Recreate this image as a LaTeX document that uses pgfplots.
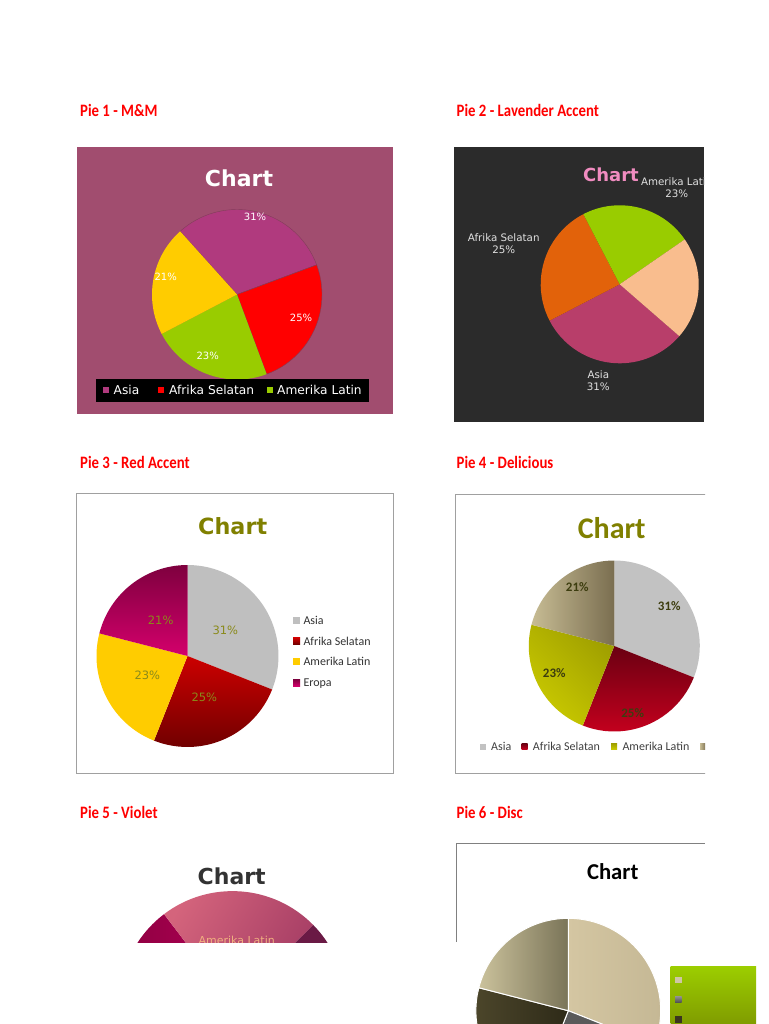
\documentclass[border=0pt]{standalone}
\usepackage{pgfplots}
\pgfplotsset{compat=1.18}
\usepgfplotslibrary{polar}
\usepackage{fontspec}
\setmainfont{DejaVu Sans}
\newfontfamily\carlito{Carlito}

% share of each region, in percent
\def\vAsia{31}
\def\vAfrika{25}
\def\vAmerika{23}
\def\vEropa{21}

\definecolor{mmbg}{HTML}{A14D6F}
\definecolor{mmAsia}{HTML}{B03A7E}
\definecolor{mmAfr}{HTML}{FF0000}
\definecolor{mmAme}{HTML}{99CC00}
\definecolor{mmEro}{HTML}{FFCC00}
\definecolor{lvbg}{HTML}{2B2B2B}
\definecolor{lvAsia}{HTML}{B83E6A}
\definecolor{lvAfr}{HTML}{E2620A}
\definecolor{lvAme}{HTML}{99CC00}
\definecolor{lvEro}{HTML}{F9BD8E}
\definecolor{lvtitle}{HTML}{F08CC0}
\definecolor{olive}{HTML}{808000}
\definecolor{oliveLbl}{HTML}{8A8A1A}
\definecolor{dlLbl}{HTML}{3D3D0F}
\definecolor{boxgray}{HTML}{A0A0A0}
\definecolor{raEroTop}{RGB}{126,0,62}
\definecolor{raEroBot}{RGB}{212,0,108}
\definecolor{dlAfrTop}{RGB}{106,0,18}
\definecolor{dlAfrBot}{RGB}{200,0,30}
\definecolor{dlAmeTop}{RGB}{160,160,0}
\definecolor{dlAmeBot}{RGB}{204,204,0}
\definecolor{dlEroL}{RGB}{199,188,148}
\definecolor{dlEroR}{RGB}{122,110,80}
\definecolor{vAsia}{RGB}{150,40,90}
\definecolor{vAfrL}{RGB}{140,0,64}
\definecolor{vAfrR}{RGB}{176,0,84}
\definecolor{vAmeL}{RGB}{212,100,124}
\definecolor{vAmeR}{RGB}{164,60,100}
\definecolor{vEro}{RGB}{106,26,69}
\definecolor{vLbl}{RGB}{240,176,128}
\definecolor{dsAsiaL}{RGB}{212,198,162}
\definecolor{dsAsiaR}{RGB}{196,183,148}
\definecolor{dsAfr}{RGB}{90,90,90}
\definecolor{dsAmeL}{RGB}{78,72,44}
\definecolor{dsAmeR}{RGB}{46,42,24}
\definecolor{dsEroL}{RGB}{203,194,156}
\definecolor{dsEroR}{RGB}{122,116,88}
\definecolor{dsLegTop}{RGB}{156,206,0}
\definecolor{dsLegBot}{RGB}{128,156,0}
\definecolor{dsKeyA}{RGB}{207,198,164}
\definecolor{dsKeyC}{RGB}{58,53,32}

\newcommand{\pieangles}[1]{%
  \pgfmathsetmacro\aA{#1}%
  \pgfmathsetmacro\aB{\aA-3.6*\vAsia}%
  \pgfmathsetmacro\aC{\aB-3.6*\vAfrika}%
  \pgfmathsetmacro\aD{\aC-3.6*\vAmerika}%
  \pgfmathsetmacro\aE{\aD-3.6*\vEropa}}
% one wedge: from angle #1 clockwise to #2, radius #3 (pt), style #4
\newcommand{\slice}[4]{%
  \addplot[#4] coordinates {(#1,1) (0,0) (#2,1)}
    arc[start angle=#2, end angle=#1, radius=#3pt] -- cycle;}

\pgfplotsset{pie/.style={hide axis, data cs=polar, clip=false,
  xmin=-1, xmax=1, ymin=-1, ymax=1, anchor=center}}
\tikzset{hdr/.style={anchor=base west, inner sep=0, text=red,
  font=\carlito\bfseries\fontsize{17.4}{19}\selectfont}}
\newcommand{\hd}[1]{\scalebox{0.85}[1]{#1}}

\begin{document}
\begin{tikzpicture}[x=1pt, y=1pt]
\useasboundingbox (0,0) rectangle (768,-1024);
\fill[white] (0,0) rectangle (768,-1024);
\clip (0,0) rectangle (768,-1024);

% ---------- headers
\node[hdr] at (80,-117) {\hd{Pie 1 - M\&M}};
\node[hdr] at (456.5,-117) {\hd{Pie 2 - Lavender Accent}};
\node[hdr] at (80,-468) {\hd{Pie 3 - Red Accent}};
\node[hdr] at (456.5,-468) {\hd{Pie 4 - Delicious}};
\node[hdr] at (80,-818.3) {\hd{Pie 5 - Violet}};
\node[hdr] at (456.5,-818.3) {\hd{Pie 6 - Disc}};

% ---------- Pie 1
\fill[mmbg] (77.3,-146.7) rectangle (393.3,-414);
\pieangles{132}
\begin{axis}[pie, x=85pt, y=85pt, at={(237pt,-294.5pt)}]
\slice{\aA}{\aB}{85}{fill=mmAsia, draw=mmbg!80!black, line width=0.4pt}
\slice{\aB}{\aC}{85}{fill=mmAfr, draw=mmbg!80!black, line width=0.4pt}
\slice{\aC}{\aD}{85}{fill=mmAme, draw=none}
\slice{\aD}{\aE}{85}{fill=mmEro, draw=none}
\end{axis}
\node[text=white, font=\bfseries\fontsize{22}{24}\selectfont] at (239,-178) {Chart};
\begin{scope}[every node/.style={text=white, font=\fontsize{10}{12}\selectfont}]
\node at (255,-216.7) {31\%};
\node at (301,-318.3) {25\%};
\node at (207.7,-355.7) {23\%};
\node at (165.7,-276.7) {21\%};
\end{scope}
\fill[black] (96,-379.3) rectangle (369.3,-402.3);
\fill[mmAsia] (102.7,-387) rectangle (108.7,-393);
\fill[mmAfr] (158.3,-387) rectangle (164.3,-393);
\fill[mmAme] (266.7,-387) rectangle (272.7,-393);
\begin{scope}[every node/.style={anchor=base west, inner sep=0, text=white, font=\fontsize{12.2}{14}\selectfont}]
\node at (113.5,-394.5) {Asia};
\node at (169,-394.5) {Afrika Selatan};
\node at (277,-394.5) {Amerika Latin};
\end{scope}

% ---------- Pie 2
\begin{scope}
\clip (454,-146.7) rectangle (704,-421.7);
\fill[lvbg] (454,-146.7) rectangle (704,-421.7);
\pieangles{-41}
\begin{axis}[pie, x=79pt, y=79pt, at={(619.7pt,-284.3pt)}]
\slice{\aA}{\aB}{79}{fill=lvAsia, draw=none}
\slice{\aB}{\aC}{79}{fill=lvAfr, draw=none}
\slice{\aC}{\aD}{79}{fill=lvAme, draw=none}
\slice{\aD}{\aE}{79}{fill=lvEro, draw=none}
\end{axis}
\node[text=lvtitle, font=\bfseries\fontsize{18}{20}\selectfont] at (611,-174.3) {Chart};
\begin{scope}[every node/.style={text=white!88!black, font=\fontsize{10.3}{12}\selectfont}]
\node at (503.7,-237.7) {Afrika Selatan};
\node at (503.7,-250) {25\%};
\node at (598.3,-375) {Asia};
\node at (598.3,-386.7) {31\%};
\node at (676.7,-181.7) {Amerika Latin};
\node at (676.7,-194) {23\%};
\end{scope}
\end{scope}

% ---------- Pie 3
\draw[boxgray, line width=1pt] (76.7,-493.3) rectangle (393.3,-773.3);
\pieangles{90}
\begin{axis}[pie, x=91pt, y=91pt, at={(187.5pt,-656pt)}]
\slice{\aA}{\aB}{91}{fill=black!25, draw=none}
\slice{\aB}{\aC}{91}{top color=red!80!black, bottom color=red!42!black, draw=none}
\slice{\aC}{\aD}{91}{fill=mmEro, draw=none}
\slice{\aD}{\aE}{91}{top color=raEroTop, bottom color=raEroBot, draw=none}
\end{axis}
\node[text=olive, font=\bfseries\fontsize{22.3}{24}\selectfont] at (232.7,-526) {Chart};
\begin{scope}[every node/.style={text=oliveLbl, font=\fontsize{11.5}{13}\selectfont}]
\node at (225.3,-630.7) {31\%};
\node at (204.3,-697.7) {25\%};
\node at (147.3,-675) {23\%};
\node at (160.7,-620) {21\%};
\end{scope}
\fill[black!25] (293,-616.5) rectangle (300,-623.5);
\shade[top color=red!80!black, bottom color=red!42!black] (293,-637.8) rectangle (300,-644.8);
\fill[mmEro] (293,-658.2) rectangle (300,-665.2);
\shade[top color=raEroTop, bottom color=raEroBot] (293,-679.2) rectangle (300,-686.2);
\begin{scope}[every node/.style={anchor=base west, inner sep=0, text=black!80, font=\carlito\fontsize{12}{14}\selectfont}]
\node at (303.3,-624) {Asia};
\node at (303.3,-645.3) {Afrika Selatan};
\node at (303.3,-665.7) {Amerika Latin};
\node at (303.3,-686.7) {Eropa};
\end{scope}

% ---------- Pie 4
\begin{scope}
\clip (454,-490) rectangle (705,-780);
\draw[boxgray, line width=1pt] (455,-494.3) rectangle (720,-773.3);
\pieangles{90}
\begin{axis}[pie, x=85.5pt, y=85.5pt, at={(614.3pt,-646pt)}]
\slice{\aA}{\aB}{85.5}{fill=black!24, draw=none}
\slice{\aB}{\aC}{85.5}{top color=dlAfrTop, bottom color=dlAfrBot, draw=none}
\slice{\aC}{\aD}{85.5}{left color=dlAmeBot, right color=dlAmeTop, shading angle=135, draw=none}
\slice{\aD}{\aE}{85.5}{left color=dlEroL, right color=dlEroR, draw=none}
\end{axis}
\node[text=olive, font=\carlito\bfseries\fontsize{30}{32}\selectfont] at (611.7,-528.3) {Chart};
\begin{scope}[every node/.style={text=dlLbl, font=\carlito\bfseries\fontsize{13}{15}\selectfont}]
\node at (669.3,-605.7) {31\%};
\node at (632.7,-713.3) {25\%};
\node at (554.3,-673.3) {23\%};
\node at (577.3,-586.7) {21\%};
\end{scope}
\fill[black!24] (480,-743.5) rectangle (486,-749.5);
\shade[top color=dlAfrTop, bottom color=dlAfrBot] (521.7,-743.5) rectangle (527.7,-749.5);
\shade[top color=dlAmeTop, bottom color=dlAmeBot] (611,-743.5) rectangle (617,-749.5);
\shade[left color=dlEroL, right color=dlEroR] (700,-743.5) rectangle (706,-749.5);
\begin{scope}[every node/.style={anchor=base west, inner sep=0, text=black!75, font=\carlito\fontsize{12}{14}\selectfont}]
\node at (491,-750.3) {Asia};
\node at (532.7,-750.3) {Afrika Selatan};
\node at (622.3,-750.3) {Amerika Latin};
\end{scope}
\end{scope}

% ---------- Pie 5
\node[text=black!80, font=\bfseries\fontsize{22}{24}\selectfont] at (231.7,-876.7) {Chart};
\begin{scope}
\clip (0,-880) rectangle (440,-942.3);
\pieangles{-31.2}
\begin{axis}[pie, x=113.2pt, y=113.2pt, at={(232.5pt,-1004.3pt)}]
\slice{\aA}{\aB}{113.2}{fill=vAsia, draw=none}
\slice{\aB}{\aC}{113.2}{left color=vAfrL, right color=vAfrR, draw=none}
\slice{\aC}{\aD}{113.2}{left color=vAmeL, right color=vAmeR, shading angle=60, draw=none}
\slice{\aD}{\aE}{113.2}{fill=vEro, draw=none}
\end{axis}
\node[text=vLbl, font=\fontsize{11}{13}\selectfont] at (236.7,-940) {Amerika Latin};
\end{scope}

% ---------- Pie 6
\draw[gray, line width=1pt] (456,-942) -- (456,-843.3) -- (705,-843.3);
\node[text=black, font=\carlito\bfseries\fontsize{22.7}{24}\selectfont] at (612.7,-871.7) {Chart};
\pieangles{90}
\begin{axis}[pie, x=92.4pt, y=92.4pt, at={(568.3pt,-1010.7pt)}]
\slice{\aA}{\aB}{92.4}{left color=dsAsiaL, right color=dsAsiaR, draw=white, line width=1pt}
\slice{\aB}{\aC}{92.4}{fill=dsAfr, draw=white, line width=1pt}
\slice{\aC}{\aD}{92.4}{left color=dsAmeL, right color=dsAmeR, draw=white, line width=1pt}
\slice{\aD}{\aE}{92.4}{left color=dsEroL, right color=dsEroR, draw=white, line width=1pt}
\end{axis}
\shade[top color=dsLegTop, bottom color=dsLegBot] (670.7,-966) rectangle (756,-1024);
\fill[dsKeyA] (675,-976.7) rectangle (681.7,-983.3);
\shade[top color=black!45, bottom color=black!70] (675,-996.7) rectangle (681.7,-1002.7);
\fill[dsKeyC] (675,-1016) rectangle (681.7,-1022.7);
\end{tikzpicture}
\end{document}
